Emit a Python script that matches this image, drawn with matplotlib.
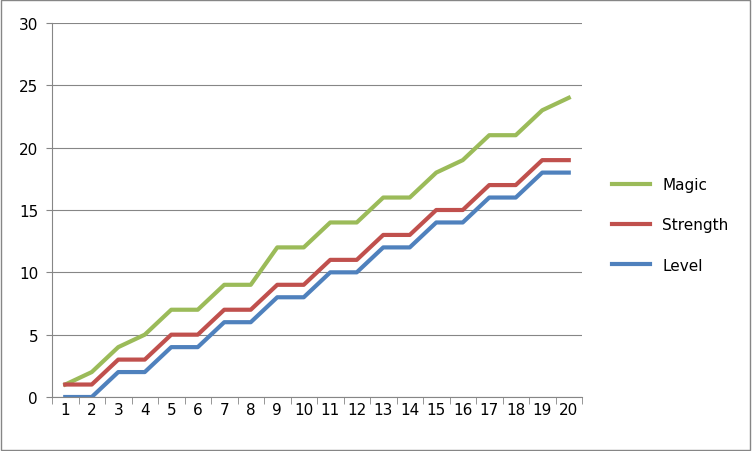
import matplotlib
matplotlib.use("Agg")
import matplotlib.pyplot as plt
from matplotlib.patches import Rectangle

x = list(range(1, 21))
level = [0,0,2,2,4,4,6,6,8,8,10,10,12,12,14,14,16,16,18,18]
strength = [1,1,3,3,5,5,7,7,9,9,11,11,13,13,15,15,17,17,19,19]
magic = [1,2,4,5,7,7,9,9,12,12,14,14,16,16,18,19,21,21,23,24]

fig = plt.figure(figsize=(7.52, 4.52), dpi=100)
fig.patches.append(Rectangle((0.001, 0.002), 0.997, 0.995, transform=fig.transFigure,
                             fill=False, edgecolor="#868686", linewidth=1))
ax = fig.add_axes([52/752, 1-398/452, 530/752, 374/452])
ax.plot(x, magic, color="#9BBB59", lw=3, label="Magic")
ax.plot(x, strength, color="#C0504D", lw=3, label="Strength")
ax.plot(x, level, color="#4F81BD", lw=3, label="Level")
ax.set_xlim(0.5, 20.5)
ax.set_ylim(0, 30)
ax.set_yticks(range(0, 31, 5))
ax.set_xticks(x)
ax.grid(axis="y", color="#868686", lw=0.8)
ax.set_axisbelow(True)
for s in ["top", "right"]:
    ax.spines[s].set_visible(False)
for s in ["left", "bottom"]:
    ax.spines[s].set_color("#868686")
ax.tick_params(axis="both", labelsize=11, color="#868686", length=4)
ax.tick_params(axis="y", length=4, direction="out", pad=6)
ax.set_xticks([i + 0.5 for i in range(0, 21)], minor=True)
ax.tick_params(axis="x", which="major", length=0)
ax.tick_params(axis="x", which="minor", length=5, color="#868686")
leg = ax.legend(loc="center left", bbox_to_anchor=(1.03, 0.46), frameon=False,
                fontsize=11, handlelength=2.5, labelspacing=1.65)
fig.savefig("out.png", dpi=100)
